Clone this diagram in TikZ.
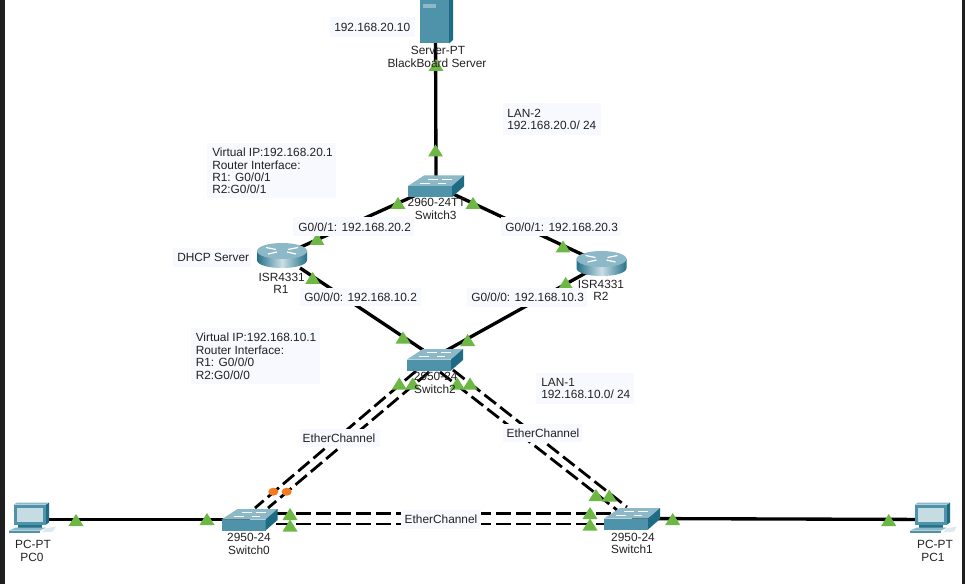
\documentclass[tikz,border=0pt]{standalone}
\usepackage{fontspec}
\setmainfont{Liberation Sans}
\usetikzlibrary{calc}
\definecolor{swfront}{HTML}{4F93AB}
\definecolor{swtop}{HTML}{8DB8C8}
\definecolor{swside}{HTML}{1E6B84}
\definecolor{lnkgreen}{HTML}{6DB845}
\definecolor{lblfill}{HTML}{F8F8FF}
\definecolor{txtcol}{HTML}{222222}
\definecolor{orangedot}{HTML}{F47B20}
\tikzset{
  x=0.75pt,y=-0.75pt,
  cable/.style={line width=2.5pt,black},
  ether/.style={line width=2.1pt,black,dash pattern=on 11pt off 4pt},
  dev/.style={inner sep=0pt,minimum width=10pt,minimum height=10pt},
  txt/.style={font=\fontsize{8.9pt}{9.4pt}\selectfont,text=txtcol,inner sep=0pt},
  txtl/.style={txt,anchor=west,align=left},
  tri/.pic={\fill[lnkgreen] (-7.5,6) -- (7.5,6) -- (0,-6) -- cycle;},
  sw/.pic={
    \fill[swfront] (-28,0) rectangle (16,11);
    \fill[swtop] (-28,0) -- (16,0) -- (28,-10.5) -- (-12,-10.5) -- cycle;
    \fill[swside] (16,0) -- (28,-10.5) -- (28,0.5) -- (16,11) -- cycle;
    \draw[white,line width=.5pt] (-16,-3) -- (-6,-3) (-8,-7) -- (2,-7) (2,-3) -- (10,-3) (6,-7) -- (16,-7);
  },
  rt/.pic={
    \shade[left color=swside!85!swfront,right color=swside!85!swfront,middle color=white!70!swfront]
      (-25,-4.5) -- (-25,4.5) .. controls (-25,15.2) and (25,15.2) .. (25,4.5) -- (25,-4.5) -- cycle;
    \fill[swtop] (0,-4.5) ellipse[x radius=25,y radius=8];
    \draw[white,line width=.9pt] (-16,-8) -- (-6,-6) (16,-8) -- (6,-6) (-14,-1.5) -- (-5,-3.5) (14,-1.5) -- (5,-3.5);
  },
  pcd/.pic={
    \fill[swfront] (-18,-15) rectangle (14,5);
    \fill[swside] (14,-15) -- (17,-17) -- (17,3) -- (14,5) -- cycle;
    \fill[swtop] (-18,-15) -- (14,-15) -- (17,-17) -- (-15,-17) -- cycle;
    \fill[swtop!50!white] (-15,-12) rectangle (11,2);
    \fill[swside!80!swfront] (-14,5) rectangle (10,8);
    \fill[swtop] (-23,11) -- (-16,8) -- (14,8) -- (8,11) -- cycle;
    \fill[swfront] (-23,11) rectangle (8,13);
    \fill[white!80!swfront] (10,13) -- (13,9) -- (24,7) -- (21,12) -- cycle;
  },
  srv/.pic={
    \fill[swfront] (-16,-22) rectangle (13.5,21.5);
    \fill[swside] (13.5,-22) -- (17.5,-22) -- (17.5,18) -- (13.5,21.5) -- cycle;
    \fill[swtop] (-13,-18) rectangle (0,-14);
  },
}
\begin{document}
\begin{tikzpicture}
\useasboundingbox (0,0) rectangle (966,584);
\fill[white] (0,0) rectangle (966,584);
\fill[black!88] (0,0) rectangle (4.5,584);
\fill[black!88] (962,0) rectangle (964.5,584);

% device nodes
\node[dev] (SRV) at (435.5,22) {};
\node[dev] (S3) at (436,186) {};
\node[dev] (S2) at (435,359.5) {};
\node[dev] (S0) at (249.5,519.5) {};
\node[dev] (S1) at (632,518.5) {};
\node[dev] (R1) at (282,255.5) {};
\node[dev] (R2) at (601.5,263.5) {};
\node[dev] (PC0) at (32,519.5) {};
\node[dev] (PC1) at (933,519.5) {};

% ports for parallel and offset links
\coordinate (S2a) at (416,371);
\coordinate (S0a) at (255,508);
\coordinate (S2b) at (429,372);
\coordinate (S0b) at (268,508);
\coordinate (S2c) at (440,372);
\coordinate (S1c) at (617,510);
\coordinate (S2d) at (453,370);
\coordinate (S1d) at (627,507);
\coordinate (S0e) at (276,513.5);
\coordinate (S1e) at (612,513.5);
\coordinate (S0f) at (276,524);
\coordinate (S1f) at (612,524);
\coordinate (R1d) at (300,268);
\coordinate (S2u) at (423,350);
\coordinate (S2v) at (440,354);
\coordinate (R2d) at (600,265);

% connectors
\draw[cable] (SRV.center) -- (S3.center);
\draw[cable] (S3.center) -- (R1.center);
\draw[cable] (S3.center) -- (R2.center);
\draw[cable] (R1d) -- (S2u);
\draw[cable] (R2d) -- (S2v);
\draw[cable] (PC0.center) -- (S0.center);
\draw[cable] (S1.center) -- (PC1.center);
\draw[ether] (S2a) -- (S0a);
\draw[ether] (S2b) -- (S0b);
\draw[ether] (S2c) -- (S1c);
\draw[ether] (S2d) -- (S1d);
\draw[ether] (S0e) -- (S1e);
\draw[ether] (S0f) -- (S1f);

% devices
\pic at (SRV) {srv};
\pic at (S3) {sw};
\pic at (S2) {sw};
\pic at (S0) {sw};
\pic at (S1) {sw};
\pic at (R1) {rt};
\pic at (R2) {rt};
\pic at (PC0) {pcd};
\pic at (PC1) {pcd};

% link lights
\foreach \p in {(436,65),(435.5,150.5),(398,203),(473,203),(317,239),(312.7,278),
  (403,337.5),(467.7,340),(563,246.5),(565.7,283),(399.3,383.5),(412.7,383.5),(457.3,383.5),(470,383.5),
  (76,520),(207,519),(290,514),(290,525.5),(590,513),(590,524.5),(596,495),(609.3,495.5),(672.7,519),(888.7,520)}
  \pic at \p {tri};

\fill[orangedot] (273.3,491.7) ellipse[x radius=5,y radius=4];
\fill[orangedot] (286.7,491.7) ellipse[x radius=5,y radius=4];

% label backgrounds
\fill[lblfill] (330,17) rectangle (415,37);
\fill[lblfill] (503,103) rectangle (601,135);
\fill[lblfill] (207,143) rectangle (336,198);
\fill[lblfill] (293,217) rectangle (414,236);
\fill[lblfill] (173,248) rectangle (251,267);
\fill[lblfill] (300,288) rectangle (421,306);
\fill[lblfill] (191,328) rectangle (320,384);
\fill[lblfill] (501,217) rectangle (621,236);
\fill[lblfill] (467,288) rectangle (587,307);
\fill[lblfill] (536,373) rectangle (634,404);
\fill[lblfill] (300,429) rectangle (380,447);
\fill[lblfill] (503,424) rectangle (582,442);
\fill[lblfill] (401,510) rectangle (481,529);

% texts
\node[txtl] (t1) at (334,27) {192.168.20.10};
\node[txt] (t2) at (438,50) {Server-PT};
\node[txt] (t3) at (437,63) {BlackBoard Server};
\node[txtl] (t4) at (507,113) {LAN-2};
\node[txtl] (t5) at (507,125) {192.168.20.0/ 24};
\node[txtl] (t6) at (212,152) {Virtual IP:192.168.20.1};
\node[txtl] (t7) at (212,165) {Router Interface:};
\node[txtl] (t8) at (212,177) {R1: G0/0/1};
\node[txtl] (t9) at (212,189) {R2:G0/0/1};
\node[txtl] (t10) at (298,227) {G0/0/1: 192.168.20.2};
\node[txtl] (t11) at (177,257) {DHCP Server};
\node[txt] (t12) at (281.7,277) {ISR4331};
\node[txt] (t13) at (281,289) {R1};
\node[txtl] (t14) at (304,297) {G0/0/0: 192.168.10.2};
\node[txtl] (t15) at (195.5,337) {Virtual IP:192.168.10.1};
\node[txtl] (t16) at (195.5,350) {Router Interface:};
\node[txtl] (t17) at (195.5,362) {R1: G0/0/0};
\node[txtl] (t18) at (195.5,375) {R2:G0/0/0};
\node[txtl] (t19) at (505,227) {G0/0/1: 192.168.20.3};
\node[txtl] (t20) at (471,297) {G0/0/0: 192.168.10.3};
\node[txt] (t21) at (601,284) {ISR4331};
\node[txt] (t22) at (601,296.7) {R2};
\node[txt] (t23) at (436.7,202.7) {2960-24TT};
\node[txt] (t24) at (435.7,215) {Switch3};
\node[txt] (t25) at (435.7,376.7) {2950-24};
\node[txt] (t26) at (435,389) {Switch2};
\node[txtl] (t27) at (541,382) {LAN-1};
\node[txtl] (t28) at (541,394) {192.168.10.0/ 24};
\node[txt] (t29) at (339,438) {EtherChannel};
\node[txt] (t30) at (543,433) {EtherChannel};
\node[txt] (t31) at (441,519) {EtherChannel};
\node[txt] (t32) at (249,537) {2950-24};
\node[txt] (t33) at (249,550) {Switch0};
\node[txt] (t34) at (33,544) {PC-PT};
\node[txt] (t35) at (32,557) {PC0};
\node[txt] (t36) at (633,537) {2950-24};
\node[txt] (t37) at (632,549) {Switch1};
\node[txt] (t38) at (935,544) {PC-PT};
\node[txt] (t39) at (933,557) {PC1};
\end{tikzpicture}
\end{document}
